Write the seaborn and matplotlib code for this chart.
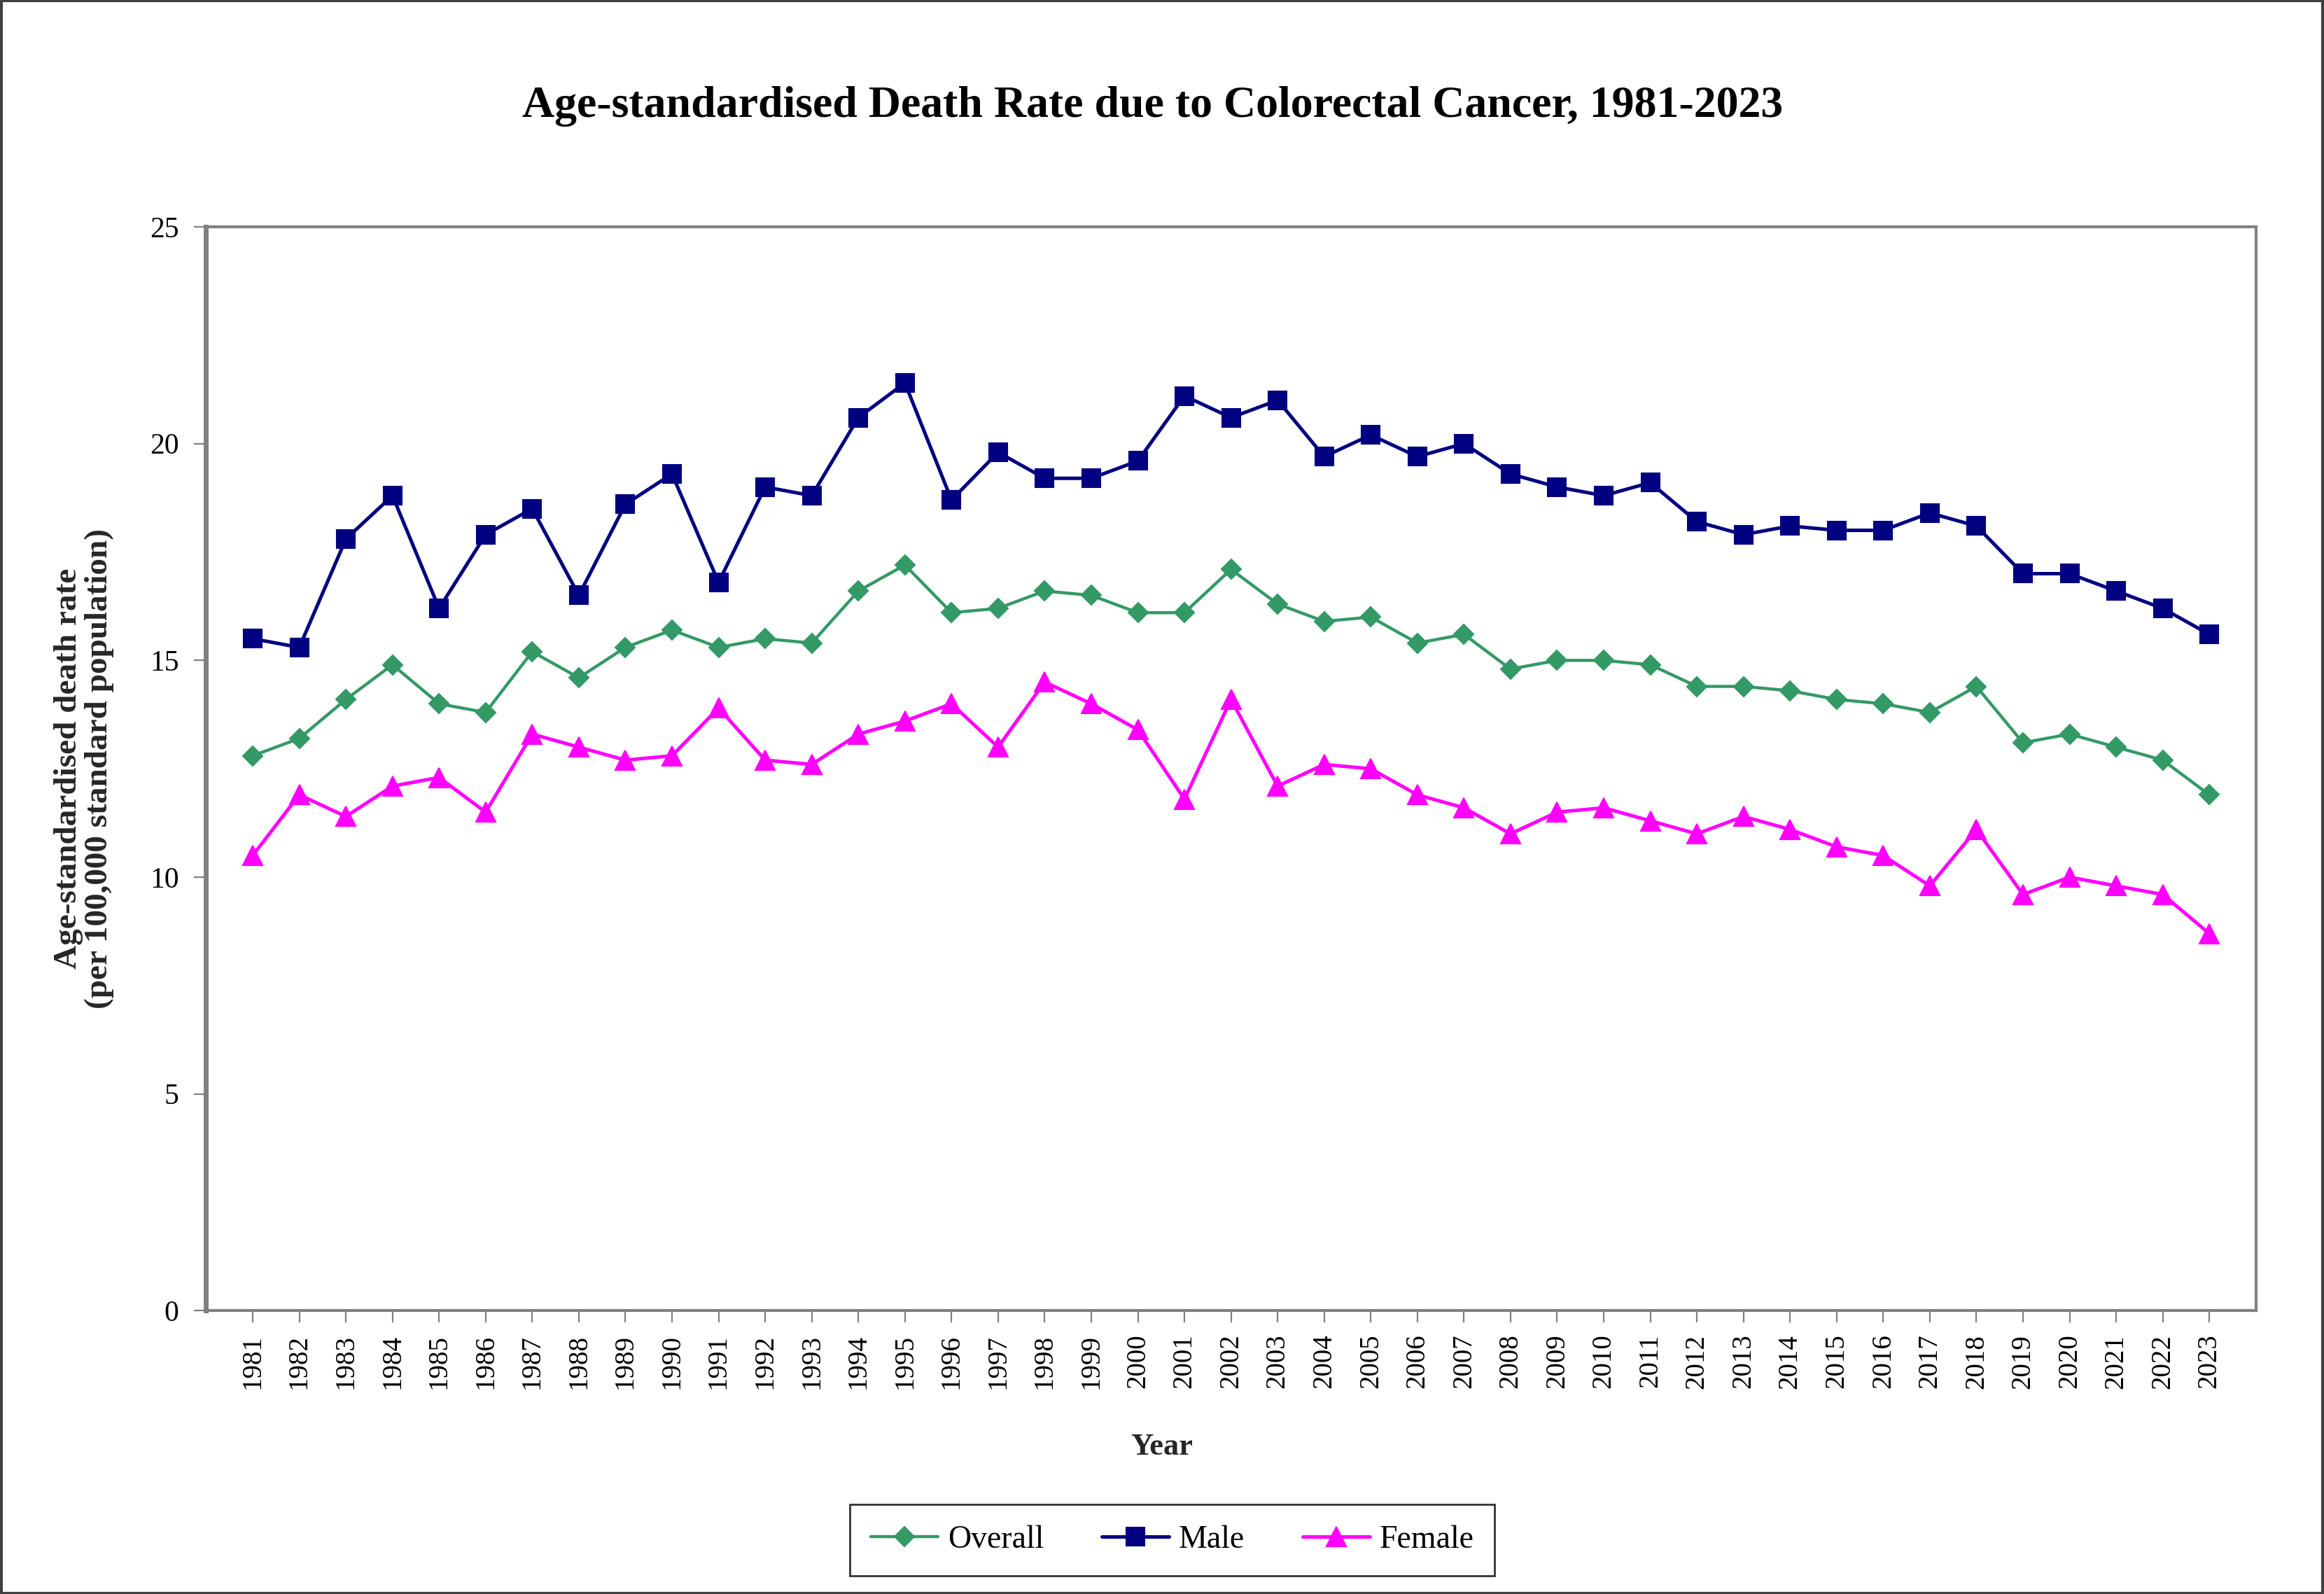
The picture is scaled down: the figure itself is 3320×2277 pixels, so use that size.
import pandas as pd
import numpy as np
import seaborn as sns
import matplotlib.pyplot as plt
from matplotlib.patches import Rectangle

## data
years = list(range(1981, 2024))
overall = [12.8, 13.2, 14.1, 14.9, 14.0, 13.8, 15.2, 14.6, 15.3, 15.7,
           15.3, 15.5, 15.4, 16.6, 17.2, 16.1, 16.2, 16.6, 16.5, 16.1,
           16.1, 17.1, 16.3, 15.9, 16.0, 15.4, 15.6, 14.8, 15.0, 15.0,
           14.9, 14.4, 14.4, 14.3, 14.1, 14.0, 13.8, 14.4, 13.1, 13.3,
           13.0, 12.7, 11.9]
male = [15.5, 15.3, 17.8, 18.8, 16.2, 17.9, 18.5, 16.5, 18.6, 19.3,
        16.8, 19.0, 18.8, 20.6, 21.4, 18.7, 19.8, 19.2, 19.2, 19.6,
        21.1, 20.6, 21.0, 19.7, 20.2, 19.7, 20.0, 19.3, 19.0, 18.8,
        19.1, 18.2, 17.9, 18.1, 18.0, 18.0, 18.4, 18.1, 17.0, 17.0,
        16.6, 16.2, 15.6]
female = [10.5, 11.9, 11.4, 12.1, 12.3, 11.5, 13.3, 13.0, 12.7, 12.8,
          13.9, 12.7, 12.6, 13.3, 13.6, 14.0, 13.0, 14.5, 14.0, 13.4,
          11.8, 14.1, 12.1, 12.6, 12.5, 11.9, 11.6, 11.0, 11.5, 11.6,
          11.3, 11.0, 11.4, 11.1, 10.7, 10.5, 9.8, 11.1, 9.6, 10.0,
          9.8, 9.6, 8.7]
series_names = ["Overall", "Male", "Female"]

df = pd.DataFrame({"year": years, "Overall": overall, "Male": male, "Female": female})
df = df.melt(id_vars="year", var_name="series", value_name="rate")

## styles
styles = {
    "Overall": dict(color="#339966", marker="D", ms=7, lw=1.6),
    "Male": dict(color="#000080", marker="s", ms=9.5, lw=1.8),
    "Female": dict(color="#FF00FF", marker="^", ms=10, lw=1.8),
}

sns.set_style("ticks")
plt.rcParams["font.family"] = ["Liberation Serif", "DejaVu Serif"]
plt.rcParams["text.color"] = "black"
plt.rcParams["xtick.color"] = "black"
plt.rcParams["ytick.color"] = "black"

fig = plt.figure(figsize=(16.6, 11.385), dpi=200)
ax = fig.add_axes([0.0887, 0.1777, 0.882, 0.680])

for name in series_names:
    st = styles[name]
    sns.lineplot(
        data=df[df.series == name],
        x="year",
        y="rate",
        ax=ax,
        color=st["color"],
        marker=st["marker"],
        markersize=st["ms"],
        markeredgecolor=st["color"],
        linewidth=st["lw"],
        label=name,
    )

ax.set_xlim(1980, 2024)
ax.set_ylim(0, 25)
ax.set_yticks([0, 5, 10, 15, 20, 25])
ax.set_xticks(years)
ax.set_xticklabels([str(y) for y in years], rotation=90, fontsize=14)
ax.tick_params(axis="y", labelsize=15, length=6, color="#808080", pad=8)
ax.tick_params(axis="x", length=6, color="#808080", pad=6)
for s in ax.spines.values():
    s.set_visible(True)
    s.set_color("#808080")
    s.set_linewidth(1.5)
ax.spines["left"].set_linewidth(2.5)

ax.set_xlabel("Year", fontsize=16, fontweight="bold")
ax.xaxis.set_label_coords((784 - 139) / 1383, -0.113)
ax.set_ylabel("Age-standardised death rate\n(per 100,000 standard population)",
              fontsize=17, fontweight="bold", linespacing=1.05)
ax.yaxis.set_label_coords(-0.045, 0.5)

fig.suptitle("Age-standardised Death Rate due to Colorectal Cancer, 1981-2023",
             fontsize=23, fontweight="bold", x=0.496, y=0.946)

leg = ax.legend(
    loc="center",
    bbox_to_anchor=(0.4714, -0.2115),
    bbox_transform=ax.transAxes,
    ncol=3,
    frameon=True,
    fancybox=False,
    edgecolor="black",
    fontsize=16.5,
    handlelength=2.1,
    handletextpad=0.3,
    columnspacing=1.8,
    borderpad=0.65,
    borderaxespad=0,
)
leg.get_frame().set_linewidth(1.0)

fig.patches.append(Rectangle((0.0005, 0.0005), 0.999, 0.999, transform=fig.transFigure,
                             fill=False, edgecolor="#404040", linewidth=1.5))

fig.savefig("out.png", dpi=200, facecolor="white")
